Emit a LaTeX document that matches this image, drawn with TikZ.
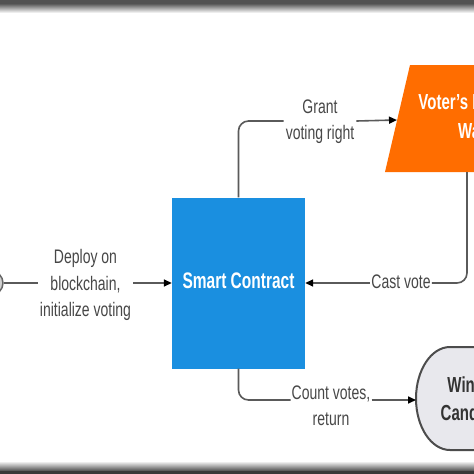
\documentclass[tikz,border=0pt]{standalone}
\usepackage{fontspec}
\setmainfont{Liberation Sans}
\usepackage{graphicx}
\usetikzlibrary{arrows.meta}
\definecolor{scblue}{HTML}{1A8FE0}
\definecolor{worange}{HTML}{FF6D00}
\definecolor{lblgray}{HTML}{474747}
\definecolor{linegray}{HTML}{5A5A5A}
\definecolor{winfill}{HTML}{E8E8ED}
\newcommand{\sq}[2]{\scalebox{1}[#1]{\begin{tabular}{@{}c@{}}#2\end{tabular}}}
\tikzset{
  conn/.style={draw=linegray, line width=1.6pt},
  arr/.style={conn, -{Triangle[length=8pt,width=7pt,fill=black,color=black]}},
  lbl/.style={fill=white, inner xsep=2pt, inner ysep=0pt, text=lblgray, font=\fontsize{14}{19}\selectfont},
}
\begin{document}
\begin{tikzpicture}[x=1pt,y=1pt]
\useasboundingbox (0,0) rectangle (474,-474);
\clip (0,0) rectangle (474,-474);
\fill[white] (0,0) rectangle (474,-474);
% frame shading (discrete strips)
\foreach \i in {0,...,9} {
  \pgfmathsetmacro{\pc}{70*(1-\i/10)}
  \fill[black!\pc] (0,-3-\i) rectangle (474,-4-\i);
  \fill[black!\pc] (0,-470.5+\i) rectangle (474,-471.5+\i);
}
\fill[black!68] (0,0) rectangle (474,-3.5);
\fill[black!78] (0,-471) rectangle (474,-474);
% start circle (mostly off the picture)
\node[circle, draw=black!60, fill=gray!35, line width=1.5pt, minimum size=24pt, inner sep=0pt] (admin) at (-9,-283) {};
% smart contract
\node[fill=scblue, minimum width=133pt, minimum height=171pt, inner sep=0pt, text=white, font=\bfseries\fontsize{15.5}{19}\selectfont] (sc) at (238.5,-283) {\sq{1.45}{Smart Contract}};
% wallet trapezoid
\fill[worange] (410,-65) -- (560,-65) -- (560,-172) -- (385,-172) -- cycle;
\node[text=white, font=\bfseries\fontsize{15}{20}\selectfont, inner sep=0pt] (wallet) at (480,-118) {\sq{1.45}{Voter's Ethereum\\Wallet}};
\coordinate (wl) at (397,-120);
\coordinate (wb) at (467,-172);
% winning candidate
\filldraw[fill=winfill, draw=black!70, line width=2pt] (560,-347) -- (450,-347) arc[start angle=90, end angle=270, x radius=34, y radius=51.5] -- (560,-450);
\node[text=black!80, font=\bfseries\fontsize{15}{19.5}\selectfont, inner sep=0pt] (win) at (477,-401) {\sq{1.45}{Winning\\Candidate}};
\coordinate (wn) at (416,-400);
% labels
\node[lbl] (deploy) at (85.5,-285) {\sq{1.4}{Deploy on\\blockchain,\\initialize voting}};
\node[lbl] (grant) at (320,-121) {\sq{1.4}{Grant\\voting right}};
\node[lbl, inner xsep=1pt] (cast) at (401,-283) {\sq{1.4}{Cast vote}};
\node[lbl, inner xsep=1pt] (count) at (331,-407) {\sq{1.4}{Count votes,\\return}};
% connectors
\draw[conn] (admin.east) -- (deploy.west |- admin.east);
\draw[arr] (deploy.east |- sc.east) -- (sc.west);
\draw[conn, rounded corners=10pt] (sc.north) |- (grant.west);
\draw[arr] (grant.east) -- (wl);
\draw[conn, rounded corners=10pt] (wb) |- (cast.east);
\draw[arr] (cast.west) -- (sc.east);
\draw[conn, rounded corners=10pt] (sc.south) |- ([yshift=7pt]count.west);
\draw[arr] ([yshift=7pt]count.east) -- (wn);
\end{tikzpicture}
\end{document}
